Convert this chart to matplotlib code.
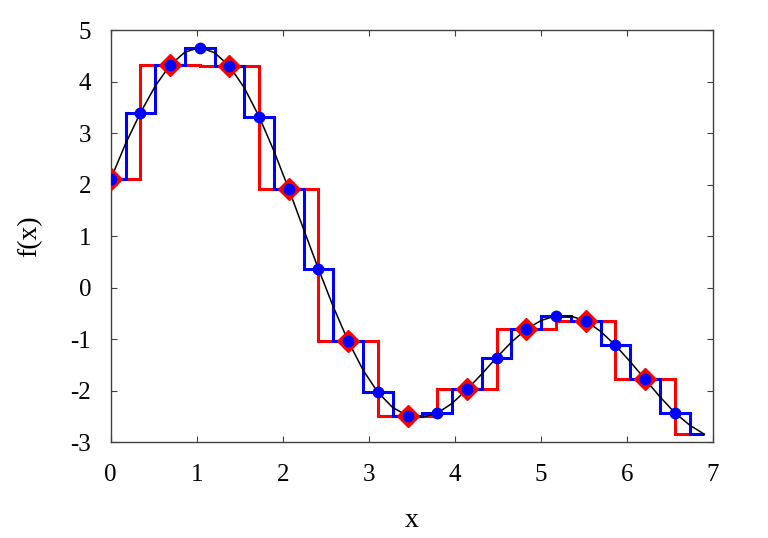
import numpy as np
import matplotlib
matplotlib.use("Agg")
import matplotlib.pyplot as plt
from matplotlib import font_manager

# sample points (fine grid, h = 0.345)
sample_x = [0.0, 0.345, 0.69, 1.035, 1.38, 1.725, 2.07, 2.415, 2.76, 3.105, 3.45,
            3.795, 4.14, 4.485, 4.83, 5.175, 5.52, 5.865, 6.21, 6.555, 6.9]
sample_y = [2.10, 3.39, 4.32, 4.66, 4.30, 3.32, 1.91, 0.36, -1.04, -2.035, -2.49,
            -2.44, -1.98, -1.36, -0.81, -0.55, -0.65, -1.12, -1.78, -2.43, -2.85]

# smooth curve f(x), read at half-step spacing
curve_x = [0.0, 0.1725, 0.345, 0.5175, 0.69, 0.8625, 1.035, 1.2075, 1.38, 1.5525,
           1.725, 1.8975, 2.07, 2.2425, 2.415, 2.5875, 2.76, 2.9325, 3.105, 3.2775,
           3.45, 3.6225, 3.795, 3.9675, 4.14, 4.3125, 4.485, 4.6575, 4.83, 5.0025,
           5.175, 5.3475, 5.52, 5.6925, 5.865, 6.0375, 6.21, 6.3825, 6.555, 6.7275, 6.9]
curve_y = [2.10, 2.79, 3.39, 3.91, 4.32, 4.57, 4.66, 4.56, 4.30, 3.88,
           3.32, 2.65, 1.91, 1.13, 0.36, -0.375, -1.04, -1.60, -2.035, -2.33,
           -2.49, -2.52, -2.44, -2.25, -1.98, -1.68, -1.36, -1.06, -0.81, -0.64,
           -0.55, -0.554, -0.65, -0.85, -1.12, -1.44, -1.78, -2.12, -2.43, -2.67, -2.85]

# coarse samples (h = 0.69) are every second fine sample
red_x = sample_x[::2]
red_y = sample_y[::2]
red_end = 6.7275

xticks = [0, 1, 2, 3, 4, 5, 6, 7]
yticks = [-3, -2, -1, 0, 1, 2, 3, 4, 5]

# find a Times-like serif font
serif_name = 'DejaVu Serif'
available = {f.name for f in font_manager.fontManager.ttflist}
for cand in ['Liberation Serif', 'Times New Roman', 'Nimbus Roman', 'Nimbus Roman No9 L',
             'Tinos', 'Noto Serif', 'DejaVu Serif']:
    if cand in available:
        serif_name = cand
        break

plt.rcParams['font.family'] = [serif_name, 'DejaVu Serif']
plt.rcParams['axes.unicode_minus'] = False

fig = plt.figure(figsize=(7.68, 5.38), dpi=100)
ax = fig.add_axes([0.1441, 0.1784, 0.9284 - 0.1441, 0.9442 - 0.1784])

sx = np.array(sample_x)
rx = np.array(red_x)
blue_edges = np.concatenate([[sx[0]], (sx[:-1] + sx[1:]) / 2, [sx[-1]]])
red_edges = np.concatenate([[rx[0]], (rx[:-1] + rx[1:]) / 2, [red_end]])

ax.stairs(red_y, red_edges, baseline=None, color='#ff0000', lw=2.2, zorder=2)
ax.stairs(sample_y, blue_edges, baseline=None, color='#0000ff', lw=2.2, zorder=3)
ax.plot(curve_x, curve_y, color='black', lw=1.1, zorder=4)
ax.plot(red_x[:-1], red_y[:-1], linestyle='none', marker='D', ms=11.5,
        mfc='#ff0000', mec='#ff0000', zorder=5)
ax.plot(sample_x[:-1], sample_y[:-1], linestyle='none', marker='o', ms=7.5,
        mfc='#0000ff', mec='#0000ff', zorder=6)

ax.set_xlim(0, 7)
ax.set_ylim(-3, 5)
ax.set_xticks(xticks)
ax.set_yticks(yticks)
ax.tick_params(direction='in', length=4.5, width=0.8, color='#404040',
               top=True, right=True, labelsize=18)
ax.tick_params(axis='x', pad=16)
ax.tick_params(axis='y', pad=14)
for s in ax.spines.values():
    s.set_color('#404040')
    s.set_linewidth(1.0)

ax.set_xlabel('x', fontsize=20, labelpad=16)
ax.set_ylabel('f(x)', fontsize=20, labelpad=20)

fig.savefig('out.png', dpi=100)
